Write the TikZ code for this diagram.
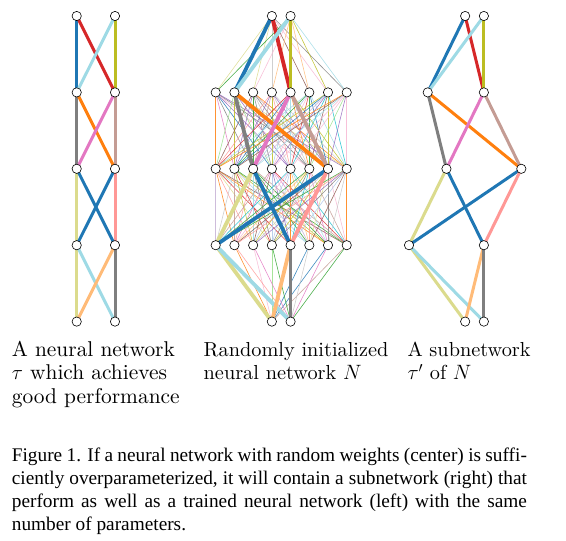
\documentclass[tikz,border=0pt]{standalone}
\usepackage{fontspec}
\newfontfamily\capfont{Liberation Serif}
\newfontfamily\lblfont{lmroman10-regular}[Extension=.otf]
\usetikzlibrary{backgrounds}

% tab20 palette
\definecolor{c0}{HTML}{1F77B4}\definecolor{c1}{HTML}{AEC7E8}
\definecolor{c2}{HTML}{FF7F0E}\definecolor{c3}{HTML}{FFBB78}
\definecolor{c4}{HTML}{2CA02C}\definecolor{c5}{HTML}{98DF8A}
\definecolor{c6}{HTML}{D62728}\definecolor{c7}{HTML}{FF9896}
\definecolor{c8}{HTML}{9467BD}\definecolor{c9}{HTML}{C5B0D5}
\definecolor{c10}{HTML}{8C564B}\definecolor{c11}{HTML}{C49C94}
\definecolor{c12}{HTML}{E377C2}\definecolor{c13}{HTML}{F7B6D2}
\definecolor{c14}{HTML}{7F7F7F}\definecolor{c15}{HTML}{C7C7C7}
\definecolor{c16}{HTML}{BCBD22}\definecolor{c17}{HTML}{DBDB8D}
\definecolor{c18}{HTML}{17BECF}\definecolor{c19}{HTML}{9EDAE5}

\tikzset{
  unit/.style={circle, draw, fill=white, inner sep=0pt, minimum size=9.3pt, line width=0.6pt},
  weak/.style={line width=0.6pt, opacity=0.85},
  strong/.style={line width=3pt},
  midstrong/.style={line width=3.8pt},
  lbl/.style={anchor=base west, align=left, inner sep=0pt, font=\lblfont\fontsize{20.3}{23.8}\selectfont},
}

\begin{document}
\begin{tikzpicture}[x=1pt, y=-1pt]
\useasboundingbox (0,0) rectangle (566,541);

% random network N
\foreach \l in {1,2,3}
  \foreach \i in {0,...,7}
    \node[unit] (m\l\i) at ({215.7+18.72*\i},{16+76.4*\l}) {};
\foreach \i in {3,4} {
  \node[unit] (m0\i) at ({215.7+18.72*\i},16) {};
  \node[unit] (m4\i) at ({215.7+18.72*\i},321.6) {};
}

% trained network tau and subnetwork tau'
\foreach \l/\a/\b in {0/3/4,1/1/4,2/2/6,3/0/4,4/3/4} {
  \node[unit] (t\l\a) at (76.7,{16+76.4*\l}) {};
  \node[unit] (t\l\b) at (115,{16+76.4*\l}) {};
  \node[unit] (s\l\a) at ({409+18.72*\a},{16+76.4*\l}) {};
  \node[unit] (s\l\b) at ({409+18.72*\b},{16+76.4*\l}) {};
}

\begin{scope}[on background layer]
  \pgfmathsetseed{17}
  % all random weights
  \foreach \a in {3,4}
    \foreach \b in {0,...,7} {
      \pgfmathrandominteger{\ci}{0}{19}
      \draw[weak, c\ci] (m0\a.center) -- (m1\b.center);
      \pgfmathrandominteger{\ci}{0}{19}
      \draw[weak, c\ci] (m4\a.center) -- (m3\b.center);
    }
  \foreach \l in {1,2}
    \foreach \a in {0,...,7}
      \foreach \b in {0,...,7} {
        \pgfmathtruncatemacro\k{\l+1}
        \pgfmathrandominteger{\ci}{0}{19}
        \draw[weak, c\ci] (m\l\a.center) -- (m\k\b.center);
      }
  % the weights that are kept
  \foreach \l/\a/\b/\c in {0/3/1/c0, 0/3/4/c6, 0/4/1/c19, 0/4/4/c16,
                           1/1/2/c14, 1/1/6/c2, 1/4/2/c12, 1/4/6/c11,
                           2/2/0/c17, 2/2/4/c0, 2/6/0/c0, 2/6/4/c7,
                           3/0/3/c17, 3/0/4/c19, 3/4/3/c3, 3/4/4/c14} {
    \pgfmathtruncatemacro\k{\l+1}
    \draw[strong, \c] (t\l\a.center) -- (t\k\b.center);
    \draw[midstrong, \c] (m\l\a.center) -- (m\k\b.center);
    \draw[strong, \c] (s\l\a.center) -- (s\k\b.center);
  }
\end{scope}

% labels (base = last line)
\node[lbl, font=\lblfont\fontsize{21.4}{23.8}\selectfont] (ltau) at (11.7,403.6) {A neural network\\$\tau$ which achieves\\good performance};
\node[lbl] (lnet) at (203.5,379.8) {Randomly initialized\\neural network $N$};
\node[lbl] (lsub) at (407.3,379.8) {A subnetwork\\$\tau'$ of $N$};

% caption
\node[anchor=base west, align=left, inner sep=0pt, font=\capfont\fontsize{19.3}{23.2}\selectfont] (cap) at (11.7,530.6)
  {\makebox[515pt][s]{Figure 1. If a neural network with random weights (center) is suffi-}\\
   \makebox[515pt][s]{ciently overparameterized, it will contain a subnetwork (right) that}\\
   \makebox[515pt][s]{perform as well as a trained neural network (left) with the same}\\
   number of parameters.};
\end{tikzpicture}
\end{document}
